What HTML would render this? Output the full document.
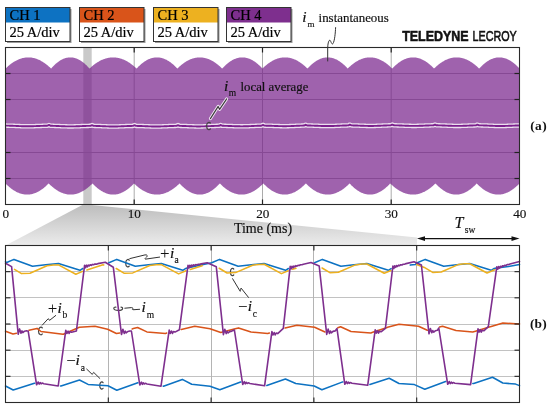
<!DOCTYPE html>
<html><head><meta charset="utf-8"><title>Oscilloscope capture</title>
<style>
html,body{margin:0;padding:0;background:#fff;}
body{width:550px;height:408px;overflow:hidden;}
svg{display:block;}
</style></head>
<body>
<svg width="550" height="408" viewBox="0 0 550 408">
<rect x="0" y="0" width="550" height="408" fill="#fff"/>
<rect x="7" y="9" width="64.5" height="34" fill="#9a9a9a"/>
<rect x="5.5" y="7.5" width="64.5" height="34" fill="#ffffff"/>
<rect x="5.5" y="7.5" width="64.5" height="15" fill="#0d72c2"/>
<rect x="5.5" y="7.5" width="64.5" height="34" fill="none" stroke="#333" stroke-width="1"/>
<text x="9.5" y="20.2" font-family="'Liberation Serif',serif" font-size="14.5" fill="#000" stroke="#000" stroke-width="0.2">CH 1</text>
<text x="9.5" y="36.6" font-family="'Liberation Serif',serif" font-size="14.5" fill="#000" stroke="#000" stroke-width="0.2">25 A/div</text>
<rect x="81" y="9" width="64.5" height="34" fill="#9a9a9a"/>
<rect x="79.5" y="7.5" width="64.5" height="34" fill="#ffffff"/>
<rect x="79.5" y="7.5" width="64.5" height="15" fill="#d9541a"/>
<rect x="79.5" y="7.5" width="64.5" height="34" fill="none" stroke="#333" stroke-width="1"/>
<text x="83.5" y="20.2" font-family="'Liberation Serif',serif" font-size="14.5" fill="#000" stroke="#000" stroke-width="0.2">CH 2</text>
<text x="83.5" y="36.6" font-family="'Liberation Serif',serif" font-size="14.5" fill="#000" stroke="#000" stroke-width="0.2">25 A/div</text>
<rect x="155" y="9" width="64.5" height="34" fill="#9a9a9a"/>
<rect x="153.5" y="7.5" width="64.5" height="34" fill="#ffffff"/>
<rect x="153.5" y="7.5" width="64.5" height="15" fill="#edb120"/>
<rect x="153.5" y="7.5" width="64.5" height="34" fill="none" stroke="#333" stroke-width="1"/>
<text x="157.5" y="20.2" font-family="'Liberation Serif',serif" font-size="14.5" fill="#000" stroke="#000" stroke-width="0.2">CH 3</text>
<text x="157.5" y="36.6" font-family="'Liberation Serif',serif" font-size="14.5" fill="#000" stroke="#000" stroke-width="0.2">25 A/div</text>
<rect x="228" y="9" width="64.5" height="34" fill="#9a9a9a"/>
<rect x="226.5" y="7.5" width="64.5" height="34" fill="#ffffff"/>
<rect x="226.5" y="7.5" width="64.5" height="15" fill="#7e2f8e"/>
<rect x="226.5" y="7.5" width="64.5" height="34" fill="none" stroke="#333" stroke-width="1"/>
<text x="230.5" y="20.2" font-family="'Liberation Serif',serif" font-size="14.5" fill="#000" stroke="#000" stroke-width="0.2">CH 4</text>
<text x="230.5" y="36.6" font-family="'Liberation Serif',serif" font-size="14.5" fill="#000" stroke="#000" stroke-width="0.2">25 A/div</text>
<rect x="83.3" y="47.5" width="8.4" height="157" fill="#c9c9c9"/>
<line x1="5.5" y1="73.5" x2="519.5" y2="73.5" stroke="#ababab" stroke-width="1"/>
<line x1="5.5" y1="99.5" x2="519.5" y2="99.5" stroke="#ababab" stroke-width="1"/>
<line x1="5.5" y1="126" x2="519.5" y2="126" stroke="#ababab" stroke-width="1"/>
<line x1="5.5" y1="152.5" x2="519.5" y2="152.5" stroke="#ababab" stroke-width="1"/>
<line x1="5.5" y1="178.5" x2="519.5" y2="178.5" stroke="#ababab" stroke-width="1"/>
<line x1="134.2" y1="47.5" x2="134.2" y2="204.5" stroke="#ababab" stroke-width="1"/>
<line x1="262.5" y1="47.5" x2="262.5" y2="204.5" stroke="#ababab" stroke-width="1"/>
<line x1="391.2" y1="47.5" x2="391.2" y2="204.5" stroke="#ababab" stroke-width="1"/>
<polygon points="5.5,68.6 6,68.11 6.5,67.64 7,67.17 7.5,66.72 8,66.28 8.5,65.85 9,65.43 9.5,65.01 10,64.62 10.5,64.23 11,63.85 11.5,63.48 12,63.12 12.5,62.78 13,62.44 13.5,62.12 14,61.81 14.5,61.5 15,61.21 15.5,60.93 16,60.66 16.5,60.4 17,60.15 17.5,59.91 18,59.69 18.5,59.47 19,59.26 19.5,59.07 20,58.88 20.5,58.71 21,58.55 21.5,58.4 22,58.26 22.5,58.12 23,58.01 23.5,57.9 24,57.8 24.5,57.71 25,57.63 25.5,57.57 26,57.51 26.5,57.47 27,57.44 27.5,57.41 28,57.4 28.5,57.4 29,57.41 29.5,57.43 30,57.46 30.5,57.5 31,57.56 31.5,57.62 32,57.69 32.5,57.78 33,57.88 33.5,57.98 34,58.1 34.5,58.23 35,58.37 35.5,58.52 36,58.68 36.5,58.85 37,59.03 37.5,59.22 38,59.43 38.5,59.64 39,59.87 39.5,60.1 40,60.35 40.5,60.61 41,60.88 41.5,61.15 42,61.44 42.5,61.74 43,62.06 43.5,62.38 44,62.71 44.5,63.05 45,63.41 45.5,63.77 46,64.15 46.5,64.54 47,64.93 47.5,65.34 48,65.76 48.5,66.19 49,66.63 49.5,67.08 50,67.55 50.5,68.02 51,68.5 51.5,68.14 52,67.57 52.5,67.03 53,66.49 53.5,65.97 54,65.47 54.5,64.98 55,64.51 55.5,64.05 56,63.61 56.5,63.19 57,62.77 57.5,62.38 58,62 58.5,61.63 59,61.28 59.5,60.94 60,60.62 60.5,60.32 61,60.03 61.5,59.75 62,59.49 62.5,59.25 63,59.02 63.5,58.8 64,58.61 64.5,58.42 65,58.25 65.5,58.1 66,57.96 66.5,57.84 67,57.73 67.5,57.64 68,57.56 68.5,57.5 69,57.45 69.5,57.42 70,57.4 70.5,57.4 71,57.41 71.5,57.44 72,57.49 72.5,57.55 73,57.62 73.5,57.71 74,57.82 74.5,57.94 75,58.07 75.5,58.22 76,58.39 76.5,58.57 77,58.76 77.5,58.98 78,59.2 78.5,59.44 79,59.7 79.5,59.97 80,60.26 80.5,60.56 81,60.88 81.5,61.21 82,61.56 82.5,61.92 83,62.3 83.5,62.69 84,63.1 84.5,63.53 85,63.97 85.5,64.42 86,64.89 86.5,65.37 87,65.87 87.5,66.39 88,66.92 88.5,67.46 89,68.02 89.5,68.6 90,68.13 90.5,67.67 91,67.22 91.5,66.78 92,66.35 92.5,65.93 93,65.52 93.5,65.12 94,64.73 94.5,64.35 95,63.98 95.5,63.62 96,63.27 96.5,62.93 97,62.6 97.5,62.28 98,61.97 98.5,61.68 99,61.39 99.5,61.11 100,60.84 100.5,60.58 101,60.33 101.5,60.09 102,59.87 102.5,59.65 103,59.44 103.5,59.24 104,59.05 104.5,58.88 105,58.71 105.5,58.55 106,58.4 106.5,58.27 107,58.14 107.5,58.02 108,57.92 108.5,57.82 109,57.73 109.5,57.65 110,57.59 110.5,57.53 111,57.48 111.5,57.45 112,57.42 112.5,57.41 113,57.4 113.5,57.4 114,57.42 114.5,57.44 115,57.48 115.5,57.52 116,57.58 116.5,57.64 117,57.72 117.5,57.8 118,57.89 118.5,58 119,58.11 119.5,58.24 120,58.38 120.5,58.52 121,58.68 121.5,58.84 122,59.02 122.5,59.2 123,59.4 123.5,59.61 124,59.82 124.5,60.05 125,60.28 125.5,60.53 126,60.79 126.5,61.05 127,61.33 127.5,61.62 128,61.91 128.5,62.22 129,62.54 129.5,62.86 130,63.2 130.5,63.55 131,63.91 131.5,64.27 132,64.65 132.5,65.04 133,65.44 133.5,65.85 134,66.26 134.5,66.69 135,67.13 135.5,67.58 136,68.04 136.5,68.51 137,68.16 137.5,67.63 138,67.11 138.5,66.61 139,66.11 139.5,65.64 140,65.17 140.5,64.72 141,64.28 141.5,63.86 142,63.44 142.5,63.05 143,62.66 143.5,62.29 144,61.94 144.5,61.59 145,61.26 145.5,60.95 146,60.64 146.5,60.35 147,60.08 147.5,59.82 148,59.57 148.5,59.33 149,59.11 149.5,58.9 150,58.71 150.5,58.53 151,58.36 151.5,58.2 152,58.06 152.5,57.94 153,57.82 153.5,57.72 154,57.64 154.5,57.56 155,57.5 155.5,57.46 156,57.42 156.5,57.41 157,57.4 157.5,57.41 158,57.43 158.5,57.46 159,57.51 159.5,57.58 160,57.65 160.5,57.74 161,57.84 161.5,57.96 162,58.09 162.5,58.23 163,58.39 163.5,58.56 164,58.74 164.5,58.94 165,59.15 165.5,59.38 166,59.62 166.5,59.87 167,60.13 167.5,60.41 168,60.7 168.5,61.01 169,61.33 169.5,61.66 170,62.01 170.5,62.37 171,62.74 171.5,63.13 172,63.53 172.5,63.94 173,64.37 173.5,64.81 174,65.26 174.5,65.73 175,66.21 175.5,66.71 176,67.21 176.5,67.74 177,68.27 177.5,68.4 178,67.91 178.5,67.43 179,66.97 179.5,66.51 180,66.07 180.5,65.63 181,65.21 181.5,64.8 182,64.4 182.5,64.01 183,63.63 183.5,63.27 184,62.91 184.5,62.57 185,62.23 185.5,61.91 186,61.6 186.5,61.3 187,61.01 187.5,60.73 188,60.47 188.5,60.21 189,59.97 189.5,59.73 190,59.51 190.5,59.3 191,59.1 191.5,58.91 192,58.73 192.5,58.57 193,58.41 193.5,58.27 194,58.13 194.5,58.01 195,57.9 195.5,57.8 196,57.71 196.5,57.63 197,57.57 197.5,57.51 198,57.47 198.5,57.43 199,57.41 199.5,57.4 200,57.4 200.5,57.41 201,57.43 201.5,57.47 202,57.51 202.5,57.57 203,57.63 203.5,57.71 204,57.8 204.5,57.9 205,58.01 205.5,58.13 206,58.27 206.5,58.41 207,58.57 207.5,58.73 208,58.91 208.5,59.1 209,59.3 209.5,59.51 210,59.73 210.5,59.97 211,60.21 211.5,60.47 212,60.73 212.5,61.01 213,61.3 213.5,61.6 214,61.91 214.5,62.23 215,62.57 215.5,62.91 216,63.27 216.5,63.63 217,64.01 217.5,64.4 218,64.8 218.5,65.21 219,65.63 219.5,66.07 220,66.51 220.5,66.97 221,67.43 221.5,67.91 222,68.4 222.5,68.27 223,67.73 223.5,67.2 224,66.68 224.5,66.18 225,65.7 225.5,65.22 226,64.77 226.5,64.32 227,63.89 227.5,63.47 228,63.07 228.5,62.68 229,62.3 229.5,61.94 230,61.59 230.5,61.26 231,60.94 231.5,60.63 232,60.34 232.5,60.06 233,59.8 233.5,59.55 234,59.31 234.5,59.09 235,58.88 235.5,58.68 236,58.5 236.5,58.33 237,58.18 237.5,58.04 238,57.91 238.5,57.8 239,57.7 239.5,57.62 240,57.55 240.5,57.49 241,57.45 241.5,57.42 242,57.4 242.5,57.4 243,57.41 243.5,57.44 244,57.48 244.5,57.53 245,57.6 245.5,57.68 246,57.78 246.5,57.89 247,58.01 247.5,58.15 248,58.3 248.5,58.47 249,58.64 249.5,58.84 250,59.04 250.5,59.26 251,59.5 251.5,59.75 252,60.01 252.5,60.28 253,60.57 253.5,60.88 254,61.19 254.5,61.53 255,61.87 255.5,62.23 256,62.6 256.5,62.99 257,63.39 257.5,63.8 258,64.23 258.5,64.68 259,65.13 259.5,65.6 260,66.09 260.5,66.58 261,67.09 261.5,67.62 262,68.16 262.5,68.5 263,68.01 263.5,67.53 264,67.07 264.5,66.61 265,66.17 265.5,65.73 266,65.31 266.5,64.9 267,64.5 267.5,64.11 268,63.73 268.5,63.36 269,63 269.5,62.66 270,62.32 270.5,62 271,61.69 271.5,61.38 272,61.09 272.5,60.81 273,60.55 273.5,60.29 274,60.04 274.5,59.81 275,59.58 275.5,59.37 276,59.16 276.5,58.97 277,58.79 277.5,58.62 278,58.46 278.5,58.32 279,58.18 279.5,58.05 280,57.94 280.5,57.84 281,57.74 281.5,57.66 282,57.59 282.5,57.53 283,57.48 283.5,57.45 284,57.42 284.5,57.4 285,57.4 285.5,57.41 286,57.42 286.5,57.45 287,57.49 287.5,57.54 288,57.6 288.5,57.68 289,57.76 289.5,57.86 290,57.96 290.5,58.08 291,58.21 291.5,58.34 292,58.49 292.5,58.66 293,58.83 293.5,59.01 294,59.2 294.5,59.41 295,59.62 295.5,59.85 296,60.09 296.5,60.34 297,60.6 297.5,60.87 298,61.15 298.5,61.44 299,61.75 299.5,62.06 300,62.39 300.5,62.73 301,63.07 301.5,63.43 302,63.8 302.5,64.18 303,64.58 303.5,64.98 304,65.39 304.5,65.82 305,66.25 305.5,66.7 306,67.16 306.5,67.63 307,68.11 307.5,68.6 308,68.05 308.5,67.51 309,66.99 309.5,66.48 310,65.99 310.5,65.51 311,65.04 311.5,64.59 312,64.15 312.5,63.72 313,63.31 313.5,62.91 314,62.53 314.5,62.16 315,61.8 315.5,61.46 316,61.13 316.5,60.82 317,60.51 317.5,60.23 318,59.95 318.5,59.7 319,59.45 319.5,59.22 320,59 320.5,58.8 321,58.61 321.5,58.43 322,58.27 322.5,58.12 323,57.99 323.5,57.87 324,57.76 324.5,57.67 325,57.59 325.5,57.52 326,57.47 326.5,57.43 327,57.41 327.5,57.4 328,57.4 328.5,57.42 329,57.45 329.5,57.5 330,57.56 330.5,57.63 331,57.72 331.5,57.82 332,57.94 332.5,58.07 333,58.21 333.5,58.37 334,58.54 334.5,58.72 335,58.92 335.5,59.13 336,59.36 336.5,59.6 337,59.85 337.5,60.12 338,60.4 338.5,60.69 339,61 339.5,61.33 340,61.66 340.5,62.01 341,62.38 341.5,62.76 342,63.15 342.5,63.55 343,63.97 343.5,64.41 344,64.86 344.5,65.32 345,65.79 345.5,66.28 346,66.79 346.5,67.3 347,67.83 347.5,68.38 348,68.3 348.5,67.81 349,67.33 349.5,66.86 350,66.4 350.5,65.96 351,65.52 351.5,65.1 352,64.69 352.5,64.29 353,63.9 353.5,63.52 354,63.16 354.5,62.8 355,62.46 355.5,62.12 356,61.8 356.5,61.49 357,61.19 357.5,60.91 358,60.63 358.5,60.37 359,60.11 359.5,59.87 360,59.64 360.5,59.42 361,59.21 361.5,59.02 362,58.83 362.5,58.66 363,58.49 363.5,58.34 364,58.2 364.5,58.07 365,57.95 365.5,57.85 366,57.75 366.5,57.67 367,57.6 367.5,57.54 368,57.49 368.5,57.45 369,57.42 369.5,57.4 370,57.4 370.5,57.41 371,57.42 371.5,57.45 372,57.5 372.5,57.55 373,57.61 373.5,57.69 374,57.77 374.5,57.87 375,57.98 375.5,58.1 376,58.23 376.5,58.37 377,58.52 377.5,58.69 378,58.87 378.5,59.05 379,59.25 379.5,59.46 380,59.69 380.5,59.92 381,60.16 381.5,60.42 382,60.68 382.5,60.96 383,61.25 383.5,61.55 384,61.87 384.5,62.19 385,62.52 385.5,62.87 386,63.23 386.5,63.6 387,63.98 387.5,64.37 388,64.77 388.5,65.18 389,65.61 389.5,66.05 390,66.49 390.5,66.95 391,67.42 391.5,67.91 392,68.4 392.5,68.28 393,67.76 393.5,67.25 394,66.75 394.5,66.27 395,65.8 395.5,65.34 396,64.9 396.5,64.47 397,64.05 397.5,63.64 398,63.25 398.5,62.87 399,62.5 399.5,62.14 400,61.8 400.5,61.47 401,61.15 401.5,60.85 402,60.56 402.5,60.28 403,60.02 403.5,59.76 404,59.52 404.5,59.3 405,59.08 405.5,58.88 406,58.69 406.5,58.52 407,58.35 407.5,58.2 408,58.07 408.5,57.94 409,57.83 409.5,57.73 410,57.65 410.5,57.57 411,57.51 411.5,57.47 412,57.43 412.5,57.41 413,57.4 413.5,57.4 414,57.42 414.5,57.45 415,57.49 415.5,57.55 416,57.62 416.5,57.7 417,57.79 417.5,57.9 418,58.02 418.5,58.15 419,58.29 419.5,58.45 420,58.62 420.5,58.8 421,59 421.5,59.21 422,59.43 422.5,59.67 423,59.91 423.5,60.17 424,60.45 424.5,60.73 425,61.03 425.5,61.34 426,61.67 426.5,62 427,62.35 427.5,62.72 428,63.09 428.5,63.48 429,63.88 429.5,64.3 430,64.72 430.5,65.16 431,65.62 431.5,66.08 432,66.56 432.5,67.05 433,67.55 433.5,68.07 434,68.6 434.5,68.11 435,67.63 435.5,67.16 436,66.71 436.5,66.26 437,65.82 437.5,65.4 438,64.99 438.5,64.58 439,64.19 439.5,63.81 440,63.44 440.5,63.08 441,62.74 441.5,62.4 442,62.07 442.5,61.76 443,61.46 443.5,61.16 444,60.88 444.5,60.61 445,60.35 445.5,60.1 446,59.86 446.5,59.64 447,59.42 447.5,59.22 448,59.02 448.5,58.84 449,58.67 449.5,58.51 450,58.36 450.5,58.22 451,58.09 451.5,57.97 452,57.86 452.5,57.77 453,57.68 453.5,57.61 454,57.55 454.5,57.5 455,57.46 455.5,57.43 456,57.41 456.5,57.4 457,57.4 457.5,57.42 458,57.44 458.5,57.48 459,57.53 459.5,57.58 460,57.65 460.5,57.73 461,57.82 461.5,57.93 462,58.04 462.5,58.16 463,58.3 463.5,58.44 464,58.6 464.5,58.77 465,58.95 465.5,59.14 466,59.34 466.5,59.55 467,59.77 467.5,60.01 468,60.25 468.5,60.51 469,60.77 469.5,61.05 470,61.34 470.5,61.64 471,61.95 471.5,62.27 472,62.6 472.5,62.94 473,63.3 473.5,63.66 474,64.04 474.5,64.43 475,64.82 475.5,65.23 476,65.65 476.5,66.08 477,66.53 477.5,66.98 478,67.44 478.5,67.92 479,68.4 479.5,68.27 480,67.73 480.5,67.2 481,66.69 481.5,66.19 482,65.7 482.5,65.23 483,64.77 483.5,64.33 484,63.9 484.5,63.48 485,63.08 485.5,62.69 486,62.32 486.5,61.95 487,61.61 487.5,61.27 488,60.95 488.5,60.65 489,60.35 489.5,60.08 490,59.81 490.5,59.56 491,59.32 491.5,59.1 492,58.89 492.5,58.69 493,58.51 493.5,58.34 494,58.19 494.5,58.05 495,57.92 495.5,57.81 496,57.71 496.5,57.62 497,57.55 497.5,57.49 498,57.45 498.5,57.42 499,57.4 499.5,57.4 500,57.41 500.5,57.44 501,57.48 501.5,57.53 502,57.59 502.5,57.67 503,57.77 503.5,57.88 504,58 504.5,58.13 505,58.28 505.5,58.44 506,58.62 506.5,58.81 507,59.01 507.5,59.23 508,59.46 508.5,59.71 509,59.97 509.5,60.24 510,60.53 510.5,60.83 511,61.14 511.5,61.47 512,61.81 512.5,62.17 513,62.54 513.5,62.92 514,63.32 514.5,63.73 515,64.16 515.5,64.59 516,65.05 516.5,65.51 517,65.99 517.5,66.49 518,66.99 518.5,67.52 519,68.05 519.5,68.6 519.5,183.4 519,183.92 518.5,184.42 518,184.92 517.5,185.4 517,185.86 516.5,186.32 516,186.76 515.5,187.2 515,187.62 514.5,188.02 514,188.42 513.5,188.8 513,189.17 512.5,189.53 512,189.87 511.5,190.21 511,190.53 510.5,190.84 510,191.14 509.5,191.42 509,191.69 508.5,191.95 508,192.2 507.5,192.44 507,192.66 506.5,192.87 506,193.07 505.5,193.26 505,193.44 504.5,193.6 504,193.75 503.5,193.89 503,194.01 502.5,194.13 502,194.23 501.5,194.32 501,194.39 500.5,194.46 500,194.51 499.5,194.55 499,194.58 498.5,194.6 498,194.6 497.5,194.59 497,194.57 496.5,194.54 496,194.49 495.5,194.43 495,194.36 494.5,194.28 494,194.19 493.5,194.08 493,193.96 492.5,193.83 492,193.69 491.5,193.53 491,193.37 490.5,193.19 490,193 489.5,192.79 489,192.57 488.5,192.35 488,192.11 487.5,191.85 487,191.59 486.5,191.31 486,191.02 485.5,190.72 485,190.4 484.5,190.08 484,189.74 483.5,189.39 483,189.02 482.5,188.65 482,188.26 481.5,187.86 481,187.45 480.5,187.02 480,186.59 479.5,186.14 479,185.68 478.5,185.2 478,184.72 477.5,184.22 477,183.71 476.5,183.62 476,184.15 475.5,184.67 475,185.17 474.5,185.66 474,186.14 473.5,186.61 473,187.06 472.5,187.5 472,187.93 471.5,188.34 471,188.74 470.5,189.13 470,189.5 469.5,189.86 469,190.21 468.5,190.54 468,190.86 467.5,191.17 467,191.46 466.5,191.75 466,192.01 465.5,192.27 465,192.51 464.5,192.74 464,192.95 463.5,193.15 463,193.34 462.5,193.52 462,193.68 461.5,193.83 461,193.97 460.5,194.09 460,194.2 459.5,194.29 459,194.38 458.5,194.45 458,194.5 457.5,194.55 457,194.58 456.5,194.6 456,194.6 455.5,194.59 455,194.57 454.5,194.53 454,194.48 453.5,194.42 453,194.35 452.5,194.26 452,194.16 451.5,194.04 451,193.91 450.5,193.77 450,193.62 449.5,193.45 449,193.27 448.5,193.08 448,192.87 447.5,192.65 447,192.41 446.5,192.17 446,191.91 445.5,191.63 445,191.35 444.5,191.05 444,190.74 443.5,190.41 443,190.07 442.5,189.72 442,189.35 441.5,188.97 441,188.58 440.5,188.18 440,187.76 439.5,187.33 439,186.88 438.5,186.42 438,185.95 437.5,185.47 437,184.97 436.5,184.46 436,183.94 435.5,183.4 435,183.89 434.5,184.37 434,184.83 433.5,185.29 433,185.74 432.5,186.17 432,186.59 431.5,187.01 431,187.41 430.5,187.8 430,188.18 429.5,188.55 429,188.91 428.5,189.25 428,189.59 427.5,189.91 427,190.23 426.5,190.53 426,190.82 425.5,191.11 425,191.38 424.5,191.64 424,191.89 423.5,192.12 423,192.35 422.5,192.57 422,192.77 421.5,192.97 421,193.15 420.5,193.32 420,193.48 419.5,193.63 419,193.77 418.5,193.9 418,194.02 417.5,194.13 417,194.22 416.5,194.31 416,194.38 415.5,194.45 415,194.5 414.5,194.54 414,194.57 413.5,194.59 413,194.6 412.5,194.6 412,194.58 411.5,194.56 411,194.53 410.5,194.48 410,194.42 409.5,194.35 409,194.28 408.5,194.19 408,194.09 407.5,193.98 407,193.85 406.5,193.72 406,193.58 405.5,193.42 405,193.25 404.5,193.08 404,192.89 403.5,192.69 403,192.48 402.5,192.26 402,192.03 401.5,191.79 401,191.53 400.5,191.27 400,191 399.5,190.71 399,190.41 398.5,190.1 398,189.79 397.5,189.46 397,189.12 396.5,188.76 396,188.4 395.5,188.03 395,187.64 394.5,187.25 394,186.84 393.5,186.43 393,186 392.5,185.56 392,185.11 391.5,184.65 391,184.18 390.5,183.69 390,183.62 389.5,184.16 389,184.69 388.5,185.2 388,185.7 387.5,186.18 387,186.65 386.5,187.11 386,187.56 385.5,187.99 385,188.4 384.5,188.81 384,189.2 383.5,189.57 383,189.94 382.5,190.29 382,190.62 381.5,190.94 381,191.25 380.5,191.55 380,191.83 379.5,192.1 379,192.35 378.5,192.59 378,192.82 377.5,193.03 377,193.23 376.5,193.42 376,193.59 375.5,193.75 375,193.89 374.5,194.02 374,194.14 373.5,194.25 373,194.34 372.5,194.42 372,194.48 371.5,194.53 371,194.57 370.5,194.59 370,194.6 369.5,194.6 369,194.58 368.5,194.55 368,194.5 367.5,194.44 367,194.37 366.5,194.29 366,194.19 365.5,194.07 365,193.95 364.5,193.81 364,193.65 363.5,193.49 363,193.31 362.5,193.11 362,192.9 361.5,192.68 361,192.45 360.5,192.2 360,191.94 359.5,191.66 359,191.37 358.5,191.07 358,190.75 357.5,190.42 357,190.08 356.5,189.72 356,189.35 355.5,188.96 355,188.57 354.5,188.15 354,187.73 353.5,187.29 353,186.84 352.5,186.37 352,185.89 351.5,185.4 351,184.89 350.5,184.37 350,183.84 349.5,183.5 349,184.01 348.5,184.5 348,184.98 347.5,185.44 347,185.9 346.5,186.35 346,186.78 345.5,187.2 345,187.61 344.5,188.01 344,188.4 343.5,188.77 343,189.13 342.5,189.48 342,189.82 341.5,190.15 341,190.47 340.5,190.77 340,191.07 339.5,191.35 339,191.62 338.5,191.88 338,192.12 337.5,192.36 337,192.58 336.5,192.79 336,192.99 335.5,193.18 335,193.36 334.5,193.52 334,193.67 333.5,193.81 333,193.94 332.5,194.06 332,194.17 331.5,194.26 331,194.35 330.5,194.42 330,194.48 329.5,194.52 329,194.56 328.5,194.59 328,194.6 327.5,194.6 327,194.59 326.5,194.57 326,194.53 325.5,194.49 325,194.43 324.5,194.36 324,194.28 323.5,194.19 323,194.08 322.5,193.97 322,193.84 321.5,193.7 321,193.55 320.5,193.39 320,193.22 319.5,193.03 319,192.83 318.5,192.62 318,192.4 317.5,192.17 317,191.93 316.5,191.67 316,191.4 315.5,191.12 315,190.83 314.5,190.53 314,190.22 313.5,189.89 313,189.55 312.5,189.2 312,188.84 311.5,188.47 311,188.09 310.5,187.69 310,187.28 309.5,186.86 309,186.43 308.5,185.99 308,185.54 307.5,185.07 307,184.59 306.5,184.1 306,183.6 305.5,183.71 305,184.23 304.5,184.73 304,185.22 303.5,185.69 303,186.16 302.5,186.61 302,187.05 301.5,187.47 301,187.89 300.5,188.29 300,188.68 299.5,189.06 299,189.42 298.5,189.77 298,190.11 297.5,190.44 297,190.76 296.5,191.06 296,191.35 295.5,191.63 295,191.89 294.5,192.14 294,192.39 293.5,192.61 293,192.83 292.5,193.03 292,193.22 291.5,193.4 291,193.57 290.5,193.72 290,193.86 289.5,193.99 289,194.11 288.5,194.21 288,194.3 287.5,194.38 287,194.45 286.5,194.51 286,194.55 285.5,194.58 285,194.59 284.5,194.6 284,194.59 283.5,194.57 283,194.54 282.5,194.5 282,194.44 281.5,194.37 281,194.29 280.5,194.19 280,194.09 279.5,193.97 279,193.84 278.5,193.69 278,193.54 277.5,193.37 277,193.19 276.5,192.99 276,192.79 275.5,192.57 275,192.34 274.5,192.09 274,191.84 273.5,191.57 273,191.29 272.5,191 272,190.69 271.5,190.38 271,190.05 270.5,189.7 270,189.35 269.5,188.98 269,188.6 268.5,188.21 268,187.81 267.5,187.39 267,186.96 266.5,186.52 266,186.07 265.5,185.6 265,185.12 264.5,184.63 264,184.13 263.5,183.61 263,183.71 262.5,184.21 262,184.7 261.5,185.18 261,185.64 260.5,186.1 260,186.54 259.5,186.97 259,187.39 258.5,187.8 258,188.19 257.5,188.58 257,188.95 256.5,189.31 256,189.66 255.5,189.99 255,190.32 254.5,190.63 254,190.93 253.5,191.22 253,191.5 252.5,191.76 252,192.01 251.5,192.26 251,192.49 250.5,192.7 250,192.91 249.5,193.1 249,193.29 248.5,193.46 248,193.62 247.5,193.76 247,193.9 246.5,194.02 246,194.13 245.5,194.23 245,194.32 244.5,194.39 244,194.46 243.5,194.51 243,194.55 242.5,194.58 242,194.6 241.5,194.6 241,194.59 240.5,194.57 240,194.54 239.5,194.5 239,194.45 238.5,194.38 238,194.3 237.5,194.21 237,194.11 236.5,194 236,193.87 235.5,193.73 235,193.58 234.5,193.42 234,193.25 233.5,193.07 233,192.87 232.5,192.66 232,192.44 231.5,192.21 231,191.96 230.5,191.71 230,191.44 229.5,191.16 229,190.87 228.5,190.57 228,190.25 227.5,189.93 227,189.59 226.5,189.24 226,188.88 225.5,188.5 225,188.12 224.5,187.72 224,187.31 223.5,186.89 223,186.45 222.5,186.01 222,185.55 221.5,185.08 221,184.6 220.5,184.11 220,183.61 219.5,183.73 219,184.27 218.5,184.8 218,185.32 217.5,185.82 217,186.3 216.5,186.78 216,187.23 215.5,187.68 215,188.11 214.5,188.53 214,188.93 213.5,189.32 213,189.7 212.5,190.06 212,190.41 211.5,190.74 211,191.06 210.5,191.37 210,191.66 209.5,191.94 209,192.2 208.5,192.45 208,192.69 207.5,192.91 207,193.12 206.5,193.32 206,193.5 205.5,193.67 205,193.82 204.5,193.96 204,194.09 203.5,194.2 203,194.3 202.5,194.38 202,194.45 201.5,194.51 201,194.55 200.5,194.58 200,194.6 199.5,194.6 199,194.59 198.5,194.56 198,194.52 197.5,194.47 197,194.4 196.5,194.32 196,194.22 195.5,194.11 195,193.99 194.5,193.85 194,193.7 193.5,193.53 193,193.36 192.5,193.16 192,192.96 191.5,192.74 191,192.5 190.5,192.25 190,191.99 189.5,191.72 189,191.43 188.5,191.12 188,190.81 187.5,190.47 187,190.13 186.5,189.77 186,189.4 185.5,189.01 185,188.61 184.5,188.2 184,187.77 183.5,187.32 183,186.87 182.5,186.4 182,185.91 181.5,185.42 181,184.91 180.5,184.38 180,183.84 179.5,183.5 179,183.98 178.5,184.45 178,184.92 177.5,185.37 177,185.81 176.5,186.24 176,186.66 175.5,187.07 175,187.46 174.5,187.85 174,188.23 173.5,188.59 173,188.95 172.5,189.29 172,189.62 171.5,189.94 171,190.26 170.5,190.56 170,190.85 169.5,191.12 169,191.39 168.5,191.65 168,191.9 167.5,192.13 167,192.36 166.5,192.57 166,192.78 165.5,192.97 165,193.15 164.5,193.32 164,193.48 163.5,193.63 163,193.77 162.5,193.9 162,194.02 161.5,194.12 161,194.22 160.5,194.31 160,194.38 159.5,194.44 159,194.5 158.5,194.54 158,194.57 157.5,194.59 157,194.6 156.5,194.6 156,194.59 155.5,194.56 155,194.53 154.5,194.49 154,194.43 153.5,194.37 153,194.29 152.5,194.2 152,194.1 151.5,193.99 151,193.88 150.5,193.74 150,193.6 149.5,193.45 149,193.29 148.5,193.12 148,192.93 147.5,192.74 147,192.53 146.5,192.31 146,192.09 145.5,191.85 145,191.6 144.5,191.34 144,191.07 143.5,190.79 143,190.5 142.5,190.19 142,189.88 141.5,189.56 141,189.22 140.5,188.88 140,188.52 139.5,188.15 139,187.77 138.5,187.38 138,186.99 137.5,186.57 137,186.15 136.5,185.72 136,185.28 135.5,184.83 135,184.36 134.5,183.89 134,183.4 133.5,183.93 133,184.45 132.5,184.96 132,185.45 131.5,185.94 131,186.4 130.5,186.86 130,187.3 129.5,187.73 129,188.15 128.5,188.55 128,188.94 127.5,189.32 127,189.68 126.5,190.03 126,190.37 125.5,190.7 125,191.01 124.5,191.31 124,191.59 123.5,191.87 123,192.13 122.5,192.37 122,192.61 121.5,192.83 121,193.04 120.5,193.23 120,193.41 119.5,193.58 119,193.74 118.5,193.88 118,194.01 117.5,194.13 117,194.23 116.5,194.33 116,194.4 115.5,194.47 115,194.52 114.5,194.56 114,194.59 113.5,194.6 113,194.6 112.5,194.59 112,194.56 111.5,194.52 111,194.47 110.5,194.4 110,194.33 109.5,194.23 109,194.13 108.5,194.01 108,193.88 107.5,193.74 107,193.58 106.5,193.41 106,193.23 105.5,193.04 105,192.83 104.5,192.61 104,192.37 103.5,192.13 103,191.87 102.5,191.59 102,191.31 101.5,191.01 101,190.7 100.5,190.37 100,190.03 99.5,189.68 99,189.32 98.5,188.94 98,188.55 97.5,188.15 97,187.73 96.5,187.3 96,186.86 95.5,186.4 95,185.94 94.5,185.45 94,184.96 93.5,184.45 93,183.93 92.5,183.4 92,183.91 91.5,184.4 91,184.88 90.5,185.35 90,185.81 89.5,186.26 89,186.69 88.5,187.12 88,187.53 87.5,187.93 87,188.32 86.5,188.7 86,189.06 85.5,189.42 85,189.76 84.5,190.09 84,190.41 83.5,190.71 83,191.01 82.5,191.29 82,191.57 81.5,191.83 81,192.07 80.5,192.31 80,192.54 79.5,192.75 79,192.95 78.5,193.14 78,193.32 77.5,193.49 77,193.64 76.5,193.79 76,193.92 75.5,194.04 75,194.15 74.5,194.24 74,194.33 73.5,194.4 73,194.47 72.5,194.52 72,194.55 71.5,194.58 71,194.6 70.5,194.6 70,194.59 69.5,194.57 69,194.54 68.5,194.5 68,194.44 67.5,194.38 67,194.3 66.5,194.21 66,194.11 65.5,193.99 65,193.87 64.5,193.73 64,193.58 63.5,193.42 63,193.25 62.5,193.07 62,192.87 61.5,192.67 61,192.45 60.5,192.22 60,191.98 59.5,191.72 59,191.46 58.5,191.18 58,190.89 57.5,190.59 57,190.28 56.5,189.96 56,189.62 55.5,189.28 55,188.92 54.5,188.55 54,188.17 53.5,187.77 53,187.37 52.5,186.95 52,186.52 51.5,186.08 51,185.63 50.5,185.17 50,184.69 49.5,184.2 49,183.7 48.5,183.61 48,184.11 47.5,184.61 47,185.09 46.5,185.57 46,186.03 45.5,186.47 45,186.91 44.5,187.33 44,187.74 43.5,188.14 43,188.53 42.5,188.91 42,189.27 41.5,189.62 41,189.96 40.5,190.29 40,190.61 39.5,190.91 39,191.2 38.5,191.48 38,191.75 37.5,192 37,192.25 36.5,192.48 36,192.7 35.5,192.91 35,193.1 34.5,193.29 34,193.46 33.5,193.62 33,193.76 32.5,193.9 32,194.02 31.5,194.14 31,194.23 30.5,194.32 30,194.4 29.5,194.46 29,194.51 28.5,194.55 28,194.58 27.5,194.6 27,194.6 26.5,194.59 26,194.57 25.5,194.54 25,194.49 24.5,194.44 24,194.37 23.5,194.29 23,194.2 22.5,194.09 22,193.98 21.5,193.85 21,193.71 20.5,193.55 20,193.39 19.5,193.21 19,193.02 18.5,192.82 18,192.61 17.5,192.39 17,192.15 16.5,191.9 16,191.64 15.5,191.37 15,191.09 14.5,190.79 14,190.48 13.5,190.16 13,189.83 12.5,189.48 12,189.13 11.5,188.76 11,188.38 10.5,187.99 10,187.58 9.5,187.16 9,186.74 8.5,186.3 8,185.84 7.5,185.38 7,184.9 6.5,184.41 6,183.91 5.5,183.4" fill="#76208a" fill-opacity="0.7"/>
<line x1="5.5" y1="73.5" x2="10.5" y2="73.5" stroke="#222" stroke-width="1.2"/>
<line x1="514.5" y1="73.5" x2="519.5" y2="73.5" stroke="#222" stroke-width="1.2"/>
<line x1="5.5" y1="99.5" x2="10.5" y2="99.5" stroke="#222" stroke-width="1.2"/>
<line x1="514.5" y1="99.5" x2="519.5" y2="99.5" stroke="#222" stroke-width="1.2"/>
<line x1="5.5" y1="126" x2="10.5" y2="126" stroke="#222" stroke-width="1.2"/>
<line x1="514.5" y1="126" x2="519.5" y2="126" stroke="#222" stroke-width="1.2"/>
<line x1="5.5" y1="152.5" x2="10.5" y2="152.5" stroke="#222" stroke-width="1.2"/>
<line x1="514.5" y1="152.5" x2="519.5" y2="152.5" stroke="#222" stroke-width="1.2"/>
<line x1="5.5" y1="178.5" x2="10.5" y2="178.5" stroke="#222" stroke-width="1.2"/>
<line x1="514.5" y1="178.5" x2="519.5" y2="178.5" stroke="#222" stroke-width="1.2"/>
<line x1="134.2" y1="47.5" x2="134.2" y2="52.5" stroke="#222" stroke-width="1.2"/>
<line x1="134.2" y1="199.5" x2="134.2" y2="204.5" stroke="#222" stroke-width="1.2"/>
<line x1="262.5" y1="47.5" x2="262.5" y2="52.5" stroke="#222" stroke-width="1.2"/>
<line x1="262.5" y1="199.5" x2="262.5" y2="204.5" stroke="#222" stroke-width="1.2"/>
<line x1="391.2" y1="47.5" x2="391.2" y2="52.5" stroke="#222" stroke-width="1.2"/>
<line x1="391.2" y1="199.5" x2="391.2" y2="204.5" stroke="#222" stroke-width="1.2"/>
<polyline points="5.5,125.62 6,125.62 6.5,125.62 7,125.63 7.5,125.64 8,125.65 8.5,125.66 9,125.67 9.5,125.68 10,125.7 10.5,125.71 11,125.73 11.5,125.75 12,125.77 12.5,125.79 13,125.81 13.5,125.83 14,125.85 14.5,125.87 15,125.9 15.5,125.92 16,125.94 16.5,125.97 17,125.99 17.5,126.01 18,126.04 18.5,126.06 19,126.08 19.5,126.1 20,126.12 20.5,126.14 21,126.16 21.5,126.18 22,126.2 22.5,126.21 23,126.23 23.5,126.24 24,126.25 24.5,126.26 25,126.27 25.5,126.28 26,126.28 26.5,126.29 27,126.29 27.5,126.29 28,126.29 28.5,126.29 29,126.28 29.5,126.28 30,126.27 30.5,126.26 31,126.25 31.5,126.24 32,126.23 32.5,126.21 33,126.2 33.5,126.18 34,126.17 34.5,126.15 35,126.13 35.5,126.11 36,126.09 36.5,126.07 37,126.05 37.5,126.03 38,126.01 38.5,125.99 39,125.97 39.5,125.95 40,125.93 40.5,125.91 41,125.89 41.5,125.88 42,125.86 42.5,125.84 43,125.83 43.5,125.82 44,125.8 44.5,125.79 45,125.78 45.5,125.77 46,125.77 46.5,125.76 47,125.74 47.5,125.68 48,125.5 48.5,125.21 49,125.06 49.5,125.21 50,125.51 50.5,125.7 51,125.77 51.5,125.79 52,125.8 52.5,125.82 53,125.83 53.5,125.84 54,125.86 54.5,125.88 55,125.9 55.5,125.92 56,125.94 56.5,125.96 57,125.98 57.5,126 58,126.03 58.5,126.05 59,126.07 59.5,126.1 60,126.12 60.5,126.14 61,126.16 61.5,126.19 62,126.21 62.5,126.23 63,126.25 63.5,126.27 64,126.29 64.5,126.31 65,126.32 65.5,126.34 66,126.35 66.5,126.36 67,126.37 67.5,126.38 68,126.39 68.5,126.4 69,126.4 69.5,126.41 70,126.41 70.5,126.41 71,126.41 71.5,126.41 72,126.4 72.5,126.4 73,126.39 73.5,126.38 74,126.37 74.5,126.36 75,126.35 75.5,126.33 76,126.32 76.5,126.3 77,126.28 77.5,126.26 78,126.25 78.5,126.23 79,126.21 79.5,126.19 80,126.17 80.5,126.14 81,126.12 81.5,126.1 82,126.08 82.5,126.06 83,126.04 83.5,126.02 84,126 84.5,125.99 85,125.97 85.5,125.95 86,125.94 86.5,125.92 87,125.91 87.5,125.9 88,125.89 88.5,125.88 89,125.87 89.5,125.86 90,125.85 90.5,125.78 91,125.6 91.5,125.31 92,125.16 92.5,125.31 93,125.61 93.5,125.8 94,125.87 94.5,125.89 95,125.9 95.5,125.91 96,125.93 96.5,125.94 97,125.96 97.5,125.97 98,125.99 98.5,126.01 99,126.03 99.5,126.05 100,126.07 100.5,126.09 101,126.12 101.5,126.14 102,126.16 102.5,126.18 103,126.21 103.5,126.23 104,126.25 104.5,126.27 105,126.29 105.5,126.31 106,126.33 106.5,126.35 107,126.37 107.5,126.39 108,126.4 108.5,126.42 109,126.43 109.5,126.44 110,126.45 110.5,126.46 111,126.47 111.5,126.48 112,126.48 112.5,126.48 113,126.49 113.5,126.48 114,126.48 114.5,126.48 115,126.47 115.5,126.47 116,126.46 116.5,126.45 117,126.44 117.5,126.43 118,126.41 118.5,126.4 119,126.38 119.5,126.37 120,126.35 120.5,126.33 121,126.31 121.5,126.29 122,126.27 122.5,126.25 123,126.23 123.5,126.21 124,126.18 124.5,126.16 125,126.14 125.5,126.12 126,126.1 126.5,126.08 127,126.06 127.5,126.04 128,126.02 128.5,126.01 129,125.99 129.5,125.97 130,125.96 130.5,125.95 131,125.94 131.5,125.93 132,125.92 132.5,125.9 133,125.83 133.5,125.64 134,125.35 134.5,125.2 135,125.35 135.5,125.65 136,125.83 136.5,125.9 137,125.92 137.5,125.93 138,125.94 138.5,125.95 139,125.96 139.5,125.98 140,125.99 140.5,126.01 141,126.03 141.5,126.04 142,126.06 142.5,126.08 143,126.1 143.5,126.12 144,126.15 144.5,126.17 145,126.19 145.5,126.21 146,126.23 146.5,126.25 147,126.28 147.5,126.3 148,126.32 148.5,126.34 149,126.36 149.5,126.37 150,126.39 150.5,126.41 151,126.42 151.5,126.44 152,126.45 152.5,126.46 153,126.47 153.5,126.48 154,126.48 154.5,126.49 155,126.49 155.5,126.5 156,126.5 156.5,126.49 157,126.49 157.5,126.49 158,126.48 158.5,126.47 159,126.47 159.5,126.46 160,126.44 160.5,126.43 161,126.42 161.5,126.4 162,126.38 162.5,126.37 163,126.35 163.5,126.33 164,126.31 164.5,126.29 165,126.27 165.5,126.24 166,126.22 166.5,126.2 167,126.18 167.5,126.15 168,126.13 168.5,126.11 169,126.09 169.5,126.07 170,126.05 170.5,126.03 171,126.01 171.5,125.99 172,125.97 172.5,125.96 173,125.94 173.5,125.93 174,125.92 174.5,125.91 175,125.9 175.5,125.89 176,125.87 176.5,125.81 177,125.62 177.5,125.33 178,125.18 178.5,125.33 179,125.62 179.5,125.81 180,125.88 180.5,125.9 181,125.91 181.5,125.92 182,125.93 182.5,125.95 183,125.96 183.5,125.98 184,125.99 184.5,126.01 185,126.03 185.5,126.05 186,126.07 186.5,126.09 187,126.11 187.5,126.13 188,126.15 188.5,126.17 189,126.19 189.5,126.21 190,126.23 190.5,126.25 191,126.27 191.5,126.29 192,126.31 192.5,126.33 193,126.34 193.5,126.36 194,126.37 194.5,126.39 195,126.4 195.5,126.41 196,126.42 196.5,126.43 197,126.43 197.5,126.44 198,126.44 198.5,126.44 199,126.44 199.5,126.44 200,126.44 200.5,126.43 201,126.42 201.5,126.42 202,126.41 202.5,126.4 203,126.38 203.5,126.37 204,126.35 204.5,126.34 205,126.32 205.5,126.3 206,126.28 206.5,126.26 207,126.24 207.5,126.22 208,126.2 208.5,126.17 209,126.15 209.5,126.13 210,126.11 210.5,126.08 211,126.06 211.5,126.04 212,126.02 212.5,125.99 213,125.97 213.5,125.95 214,125.93 214.5,125.91 215,125.9 215.5,125.88 216,125.87 216.5,125.85 217,125.84 217.5,125.83 218,125.82 218.5,125.8 219,125.75 219.5,125.59 220,125.31 220.5,125.1 221,125.19 221.5,125.48 222,125.7 222.5,125.78 223,125.8 223.5,125.81 224,125.82 224.5,125.83 225,125.84 225.5,125.85 226,125.87 226.5,125.88 227,125.9 227.5,125.92 228,125.93 228.5,125.95 229,125.97 229.5,125.99 230,126.01 230.5,126.03 231,126.05 231.5,126.07 232,126.09 232.5,126.11 233,126.13 233.5,126.15 234,126.17 234.5,126.19 235,126.21 235.5,126.22 236,126.24 236.5,126.26 237,126.27 237.5,126.28 238,126.29 238.5,126.3 239,126.31 239.5,126.32 240,126.32 240.5,126.33 241,126.33 241.5,126.33 242,126.33 242.5,126.33 243,126.33 243.5,126.32 244,126.31 244.5,126.3 245,126.29 245.5,126.28 246,126.27 246.5,126.26 247,126.24 247.5,126.22 248,126.2 248.5,126.19 249,126.17 249.5,126.15 250,126.12 250.5,126.1 251,126.08 251.5,126.06 252,126.03 252.5,126.01 253,125.99 253.5,125.96 254,125.94 254.5,125.92 255,125.89 255.5,125.87 256,125.85 256.5,125.83 257,125.81 257.5,125.79 258,125.77 258.5,125.76 259,125.74 259.5,125.73 260,125.71 260.5,125.7 261,125.68 261.5,125.61 262,125.42 262.5,125.12 263,124.97 263.5,125.12 264,125.41 264.5,125.59 265,125.65 265.5,125.67 266,125.68 266.5,125.68 267,125.69 267.5,125.7 268,125.71 268.5,125.72 269,125.74 269.5,125.75 270,125.77 270.5,125.78 271,125.8 271.5,125.82 272,125.84 272.5,125.86 273,125.88 273.5,125.9 274,125.92 274.5,125.94 275,125.96 275.5,125.98 276,126 276.5,126.02 277,126.04 277.5,126.05 278,126.07 278.5,126.09 279,126.1 279.5,126.12 280,126.13 280.5,126.14 281,126.16 281.5,126.17 282,126.17 282.5,126.18 283,126.19 283.5,126.19 284,126.19 284.5,126.19 285,126.19 285.5,126.19 286,126.19 286.5,126.18 287,126.17 287.5,126.16 288,126.15 288.5,126.14 289,126.13 289.5,126.11 290,126.1 290.5,126.08 291,126.06 291.5,126.05 292,126.03 292.5,126 293,125.98 293.5,125.96 294,125.94 294.5,125.92 295,125.89 295.5,125.87 296,125.85 296.5,125.82 297,125.8 297.5,125.78 298,125.75 298.5,125.73 299,125.71 299.5,125.69 300,125.67 300.5,125.65 301,125.63 301.5,125.61 302,125.6 302.5,125.58 303,125.57 303.5,125.55 304,125.5 304.5,125.33 305,125.05 305.5,124.84 306,124.93 306.5,125.21 307,125.42 307.5,125.5 308,125.52 308.5,125.53 309,125.53 309.5,125.54 310,125.55 310.5,125.56 311,125.57 311.5,125.58 312,125.6 312.5,125.61 313,125.63 313.5,125.64 314,125.66 314.5,125.68 315,125.7 315.5,125.72 316,125.74 316.5,125.76 317,125.78 317.5,125.8 318,125.82 318.5,125.84 319,125.86 319.5,125.88 320,125.9 320.5,125.91 321,125.93 321.5,125.95 322,125.97 322.5,125.98 323,125.99 323.5,126.01 324,126.02 324.5,126.03 325,126.04 325.5,126.04 326,126.05 326.5,126.05 327,126.06 327.5,126.06 328,126.06 328.5,126.05 329,126.05 329.5,126.04 330,126.04 330.5,126.03 331,126.02 331.5,126.01 332,125.99 332.5,125.98 333,125.96 333.5,125.95 334,125.93 334.5,125.91 335,125.89 335.5,125.87 336,125.85 336.5,125.83 337,125.81 337.5,125.78 338,125.76 338.5,125.74 339,125.71 339.5,125.69 340,125.67 340.5,125.64 341,125.62 341.5,125.6 342,125.58 342.5,125.56 343,125.54 343.5,125.52 344,125.5 344.5,125.49 345,125.47 345.5,125.46 346,125.44 346.5,125.43 347,125.42 347.5,125.41 348,125.38 348.5,125.27 349,125.03 349.5,124.76 350,124.72 350.5,124.97 351,125.23 351.5,125.37 352,125.41 352.5,125.42 353,125.43 353.5,125.44 354,125.45 354.5,125.46 355,125.48 355.5,125.49 356,125.51 356.5,125.52 357,125.54 357.5,125.56 358,125.58 358.5,125.6 359,125.62 359.5,125.64 360,125.66 360.5,125.68 361,125.7 361.5,125.72 362,125.74 362.5,125.76 363,125.78 363.5,125.8 364,125.82 364.5,125.84 365,125.85 365.5,125.87 366,125.88 366.5,125.9 367,125.91 367.5,125.92 368,125.93 368.5,125.94 369,125.94 369.5,125.95 370,125.95 370.5,125.95 371,125.95 371.5,125.95 372,125.95 372.5,125.94 373,125.93 373.5,125.93 374,125.92 374.5,125.91 375,125.89 375.5,125.88 376,125.87 376.5,125.85 377,125.83 377.5,125.81 378,125.79 378.5,125.77 379,125.75 379.5,125.73 380,125.71 380.5,125.69 381,125.67 381.5,125.64 382,125.62 382.5,125.6 383,125.58 383.5,125.55 384,125.53 384.5,125.51 385,125.49 385.5,125.47 386,125.45 386.5,125.43 387,125.42 387.5,125.4 388,125.39 388.5,125.37 389,125.36 389.5,125.35 390,125.34 390.5,125.31 391,125.2 391.5,124.95 392,124.68 392.5,124.65 393,124.89 393.5,125.15 394,125.28 394.5,125.32 395,125.33 395.5,125.34 396,125.35 396.5,125.36 397,125.38 397.5,125.39 398,125.4 398.5,125.42 399,125.44 399.5,125.45 400,125.47 400.5,125.49 401,125.51 401.5,125.53 402,125.55 402.5,125.58 403,125.6 403.5,125.62 404,125.64 404.5,125.66 405,125.68 405.5,125.7 406,125.72 406.5,125.74 407,125.76 407.5,125.78 408,125.8 408.5,125.81 409,125.83 409.5,125.84 410,125.85 410.5,125.87 411,125.87 411.5,125.88 412,125.89 412.5,125.9 413,125.9 413.5,125.9 414,125.9 414.5,125.9 415,125.9 415.5,125.89 416,125.89 416.5,125.88 417,125.87 417.5,125.86 418,125.85 418.5,125.84 419,125.82 419.5,125.81 420,125.79 420.5,125.77 421,125.76 421.5,125.74 422,125.72 422.5,125.7 423,125.68 423.5,125.65 424,125.63 424.5,125.61 425,125.59 425.5,125.57 426,125.55 426.5,125.52 427,125.5 427.5,125.48 428,125.46 428.5,125.44 429,125.43 429.5,125.41 430,125.39 430.5,125.38 431,125.36 431.5,125.35 432,125.34 432.5,125.33 433,125.31 433.5,125.24 434,125.05 434.5,124.76 435,124.6 435.5,124.76 436,125.05 436.5,125.23 437,125.3 437.5,125.31 438,125.32 438.5,125.33 439,125.34 439.5,125.35 440,125.37 440.5,125.38 441,125.4 441.5,125.41 442,125.43 442.5,125.45 443,125.47 443.5,125.49 444,125.51 444.5,125.53 445,125.55 445.5,125.58 446,125.6 446.5,125.62 447,125.64 447.5,125.66 448,125.69 448.5,125.71 449,125.73 449.5,125.75 450,125.77 450.5,125.79 451,125.81 451.5,125.82 452,125.84 452.5,125.85 453,125.87 453.5,125.88 454,125.89 454.5,125.9 455,125.9 455.5,125.91 456,125.92 456.5,125.92 457,125.92 457.5,125.92 458,125.92 458.5,125.91 459,125.91 459.5,125.9 460,125.9 460.5,125.89 461,125.88 461.5,125.86 462,125.85 462.5,125.84 463,125.82 463.5,125.8 464,125.79 464.5,125.77 465,125.75 465.5,125.73 466,125.71 466.5,125.69 467,125.67 467.5,125.65 468,125.62 468.5,125.6 469,125.58 469.5,125.56 470,125.54 470.5,125.52 471,125.5 471.5,125.48 472,125.47 472.5,125.45 473,125.43 473.5,125.42 474,125.41 474.5,125.4 475,125.38 475.5,125.35 476,125.24 476.5,124.99 477,124.72 477.5,124.68 478,124.92 478.5,125.19 479,125.32 479.5,125.35 480,125.36 480.5,125.37 481,125.38 481.5,125.39 482,125.4 482.5,125.41 483,125.42 483.5,125.44 484,125.46 484.5,125.47 485,125.49 485.5,125.51 486,125.53 486.5,125.55 487,125.57 487.5,125.6 488,125.62 488.5,125.64 489,125.66 489.5,125.69 490,125.71 490.5,125.73 491,125.75 491.5,125.78 492,125.8 492.5,125.82 493,125.84 493.5,125.86 494,125.88 494.5,125.9 495,125.91 495.5,125.93 496,125.94 496.5,125.95 497,125.96 497.5,125.97 498,125.98 498.5,125.99 499,125.99 499.5,126 500,126 500.5,126 501,126 501.5,126 502,125.99 502.5,125.99 503,125.98 503.5,125.97 504,125.96 504.5,125.95 505,125.94 505.5,125.92 506,125.91 506.5,125.89 507,125.87 507.5,125.86 508,125.84 508.5,125.82 509,125.8 509.5,125.78 510,125.76 510.5,125.74 511,125.72 511.5,125.7 512,125.68 512.5,125.66 513,125.64 513.5,125.62 514,125.6 514.5,125.58 515,125.57 515.5,125.55 516,125.54 516.5,125.52 517,125.51 517.5,125.5 518,125.49 518.5,125.48 519,125.47 519.5,125.47" fill="none" stroke="#ecdfee" stroke-width="4.5"/>
<polyline points="5.5,125.62 6,125.62 6.5,125.62 7,125.63 7.5,125.64 8,125.65 8.5,125.66 9,125.67 9.5,125.68 10,125.7 10.5,125.71 11,125.73 11.5,125.75 12,125.77 12.5,125.79 13,125.81 13.5,125.83 14,125.85 14.5,125.87 15,125.9 15.5,125.92 16,125.94 16.5,125.97 17,125.99 17.5,126.01 18,126.04 18.5,126.06 19,126.08 19.5,126.1 20,126.12 20.5,126.14 21,126.16 21.5,126.18 22,126.2 22.5,126.21 23,126.23 23.5,126.24 24,126.25 24.5,126.26 25,126.27 25.5,126.28 26,126.28 26.5,126.29 27,126.29 27.5,126.29 28,126.29 28.5,126.29 29,126.28 29.5,126.28 30,126.27 30.5,126.26 31,126.25 31.5,126.24 32,126.23 32.5,126.21 33,126.2 33.5,126.18 34,126.17 34.5,126.15 35,126.13 35.5,126.11 36,126.09 36.5,126.07 37,126.05 37.5,126.03 38,126.01 38.5,125.99 39,125.97 39.5,125.95 40,125.93 40.5,125.91 41,125.89 41.5,125.88 42,125.86 42.5,125.84 43,125.83 43.5,125.82 44,125.8 44.5,125.79 45,125.78 45.5,125.77 46,125.77 46.5,125.76 47,125.74 47.5,125.68 48,125.5 48.5,125.21 49,125.06 49.5,125.21 50,125.51 50.5,125.7 51,125.77 51.5,125.79 52,125.8 52.5,125.82 53,125.83 53.5,125.84 54,125.86 54.5,125.88 55,125.9 55.5,125.92 56,125.94 56.5,125.96 57,125.98 57.5,126 58,126.03 58.5,126.05 59,126.07 59.5,126.1 60,126.12 60.5,126.14 61,126.16 61.5,126.19 62,126.21 62.5,126.23 63,126.25 63.5,126.27 64,126.29 64.5,126.31 65,126.32 65.5,126.34 66,126.35 66.5,126.36 67,126.37 67.5,126.38 68,126.39 68.5,126.4 69,126.4 69.5,126.41 70,126.41 70.5,126.41 71,126.41 71.5,126.41 72,126.4 72.5,126.4 73,126.39 73.5,126.38 74,126.37 74.5,126.36 75,126.35 75.5,126.33 76,126.32 76.5,126.3 77,126.28 77.5,126.26 78,126.25 78.5,126.23 79,126.21 79.5,126.19 80,126.17 80.5,126.14 81,126.12 81.5,126.1 82,126.08 82.5,126.06 83,126.04 83.5,126.02 84,126 84.5,125.99 85,125.97 85.5,125.95 86,125.94 86.5,125.92 87,125.91 87.5,125.9 88,125.89 88.5,125.88 89,125.87 89.5,125.86 90,125.85 90.5,125.78 91,125.6 91.5,125.31 92,125.16 92.5,125.31 93,125.61 93.5,125.8 94,125.87 94.5,125.89 95,125.9 95.5,125.91 96,125.93 96.5,125.94 97,125.96 97.5,125.97 98,125.99 98.5,126.01 99,126.03 99.5,126.05 100,126.07 100.5,126.09 101,126.12 101.5,126.14 102,126.16 102.5,126.18 103,126.21 103.5,126.23 104,126.25 104.5,126.27 105,126.29 105.5,126.31 106,126.33 106.5,126.35 107,126.37 107.5,126.39 108,126.4 108.5,126.42 109,126.43 109.5,126.44 110,126.45 110.5,126.46 111,126.47 111.5,126.48 112,126.48 112.5,126.48 113,126.49 113.5,126.48 114,126.48 114.5,126.48 115,126.47 115.5,126.47 116,126.46 116.5,126.45 117,126.44 117.5,126.43 118,126.41 118.5,126.4 119,126.38 119.5,126.37 120,126.35 120.5,126.33 121,126.31 121.5,126.29 122,126.27 122.5,126.25 123,126.23 123.5,126.21 124,126.18 124.5,126.16 125,126.14 125.5,126.12 126,126.1 126.5,126.08 127,126.06 127.5,126.04 128,126.02 128.5,126.01 129,125.99 129.5,125.97 130,125.96 130.5,125.95 131,125.94 131.5,125.93 132,125.92 132.5,125.9 133,125.83 133.5,125.64 134,125.35 134.5,125.2 135,125.35 135.5,125.65 136,125.83 136.5,125.9 137,125.92 137.5,125.93 138,125.94 138.5,125.95 139,125.96 139.5,125.98 140,125.99 140.5,126.01 141,126.03 141.5,126.04 142,126.06 142.5,126.08 143,126.1 143.5,126.12 144,126.15 144.5,126.17 145,126.19 145.5,126.21 146,126.23 146.5,126.25 147,126.28 147.5,126.3 148,126.32 148.5,126.34 149,126.36 149.5,126.37 150,126.39 150.5,126.41 151,126.42 151.5,126.44 152,126.45 152.5,126.46 153,126.47 153.5,126.48 154,126.48 154.5,126.49 155,126.49 155.5,126.5 156,126.5 156.5,126.49 157,126.49 157.5,126.49 158,126.48 158.5,126.47 159,126.47 159.5,126.46 160,126.44 160.5,126.43 161,126.42 161.5,126.4 162,126.38 162.5,126.37 163,126.35 163.5,126.33 164,126.31 164.5,126.29 165,126.27 165.5,126.24 166,126.22 166.5,126.2 167,126.18 167.5,126.15 168,126.13 168.5,126.11 169,126.09 169.5,126.07 170,126.05 170.5,126.03 171,126.01 171.5,125.99 172,125.97 172.5,125.96 173,125.94 173.5,125.93 174,125.92 174.5,125.91 175,125.9 175.5,125.89 176,125.87 176.5,125.81 177,125.62 177.5,125.33 178,125.18 178.5,125.33 179,125.62 179.5,125.81 180,125.88 180.5,125.9 181,125.91 181.5,125.92 182,125.93 182.5,125.95 183,125.96 183.5,125.98 184,125.99 184.5,126.01 185,126.03 185.5,126.05 186,126.07 186.5,126.09 187,126.11 187.5,126.13 188,126.15 188.5,126.17 189,126.19 189.5,126.21 190,126.23 190.5,126.25 191,126.27 191.5,126.29 192,126.31 192.5,126.33 193,126.34 193.5,126.36 194,126.37 194.5,126.39 195,126.4 195.5,126.41 196,126.42 196.5,126.43 197,126.43 197.5,126.44 198,126.44 198.5,126.44 199,126.44 199.5,126.44 200,126.44 200.5,126.43 201,126.42 201.5,126.42 202,126.41 202.5,126.4 203,126.38 203.5,126.37 204,126.35 204.5,126.34 205,126.32 205.5,126.3 206,126.28 206.5,126.26 207,126.24 207.5,126.22 208,126.2 208.5,126.17 209,126.15 209.5,126.13 210,126.11 210.5,126.08 211,126.06 211.5,126.04 212,126.02 212.5,125.99 213,125.97 213.5,125.95 214,125.93 214.5,125.91 215,125.9 215.5,125.88 216,125.87 216.5,125.85 217,125.84 217.5,125.83 218,125.82 218.5,125.8 219,125.75 219.5,125.59 220,125.31 220.5,125.1 221,125.19 221.5,125.48 222,125.7 222.5,125.78 223,125.8 223.5,125.81 224,125.82 224.5,125.83 225,125.84 225.5,125.85 226,125.87 226.5,125.88 227,125.9 227.5,125.92 228,125.93 228.5,125.95 229,125.97 229.5,125.99 230,126.01 230.5,126.03 231,126.05 231.5,126.07 232,126.09 232.5,126.11 233,126.13 233.5,126.15 234,126.17 234.5,126.19 235,126.21 235.5,126.22 236,126.24 236.5,126.26 237,126.27 237.5,126.28 238,126.29 238.5,126.3 239,126.31 239.5,126.32 240,126.32 240.5,126.33 241,126.33 241.5,126.33 242,126.33 242.5,126.33 243,126.33 243.5,126.32 244,126.31 244.5,126.3 245,126.29 245.5,126.28 246,126.27 246.5,126.26 247,126.24 247.5,126.22 248,126.2 248.5,126.19 249,126.17 249.5,126.15 250,126.12 250.5,126.1 251,126.08 251.5,126.06 252,126.03 252.5,126.01 253,125.99 253.5,125.96 254,125.94 254.5,125.92 255,125.89 255.5,125.87 256,125.85 256.5,125.83 257,125.81 257.5,125.79 258,125.77 258.5,125.76 259,125.74 259.5,125.73 260,125.71 260.5,125.7 261,125.68 261.5,125.61 262,125.42 262.5,125.12 263,124.97 263.5,125.12 264,125.41 264.5,125.59 265,125.65 265.5,125.67 266,125.68 266.5,125.68 267,125.69 267.5,125.7 268,125.71 268.5,125.72 269,125.74 269.5,125.75 270,125.77 270.5,125.78 271,125.8 271.5,125.82 272,125.84 272.5,125.86 273,125.88 273.5,125.9 274,125.92 274.5,125.94 275,125.96 275.5,125.98 276,126 276.5,126.02 277,126.04 277.5,126.05 278,126.07 278.5,126.09 279,126.1 279.5,126.12 280,126.13 280.5,126.14 281,126.16 281.5,126.17 282,126.17 282.5,126.18 283,126.19 283.5,126.19 284,126.19 284.5,126.19 285,126.19 285.5,126.19 286,126.19 286.5,126.18 287,126.17 287.5,126.16 288,126.15 288.5,126.14 289,126.13 289.5,126.11 290,126.1 290.5,126.08 291,126.06 291.5,126.05 292,126.03 292.5,126 293,125.98 293.5,125.96 294,125.94 294.5,125.92 295,125.89 295.5,125.87 296,125.85 296.5,125.82 297,125.8 297.5,125.78 298,125.75 298.5,125.73 299,125.71 299.5,125.69 300,125.67 300.5,125.65 301,125.63 301.5,125.61 302,125.6 302.5,125.58 303,125.57 303.5,125.55 304,125.5 304.5,125.33 305,125.05 305.5,124.84 306,124.93 306.5,125.21 307,125.42 307.5,125.5 308,125.52 308.5,125.53 309,125.53 309.5,125.54 310,125.55 310.5,125.56 311,125.57 311.5,125.58 312,125.6 312.5,125.61 313,125.63 313.5,125.64 314,125.66 314.5,125.68 315,125.7 315.5,125.72 316,125.74 316.5,125.76 317,125.78 317.5,125.8 318,125.82 318.5,125.84 319,125.86 319.5,125.88 320,125.9 320.5,125.91 321,125.93 321.5,125.95 322,125.97 322.5,125.98 323,125.99 323.5,126.01 324,126.02 324.5,126.03 325,126.04 325.5,126.04 326,126.05 326.5,126.05 327,126.06 327.5,126.06 328,126.06 328.5,126.05 329,126.05 329.5,126.04 330,126.04 330.5,126.03 331,126.02 331.5,126.01 332,125.99 332.5,125.98 333,125.96 333.5,125.95 334,125.93 334.5,125.91 335,125.89 335.5,125.87 336,125.85 336.5,125.83 337,125.81 337.5,125.78 338,125.76 338.5,125.74 339,125.71 339.5,125.69 340,125.67 340.5,125.64 341,125.62 341.5,125.6 342,125.58 342.5,125.56 343,125.54 343.5,125.52 344,125.5 344.5,125.49 345,125.47 345.5,125.46 346,125.44 346.5,125.43 347,125.42 347.5,125.41 348,125.38 348.5,125.27 349,125.03 349.5,124.76 350,124.72 350.5,124.97 351,125.23 351.5,125.37 352,125.41 352.5,125.42 353,125.43 353.5,125.44 354,125.45 354.5,125.46 355,125.48 355.5,125.49 356,125.51 356.5,125.52 357,125.54 357.5,125.56 358,125.58 358.5,125.6 359,125.62 359.5,125.64 360,125.66 360.5,125.68 361,125.7 361.5,125.72 362,125.74 362.5,125.76 363,125.78 363.5,125.8 364,125.82 364.5,125.84 365,125.85 365.5,125.87 366,125.88 366.5,125.9 367,125.91 367.5,125.92 368,125.93 368.5,125.94 369,125.94 369.5,125.95 370,125.95 370.5,125.95 371,125.95 371.5,125.95 372,125.95 372.5,125.94 373,125.93 373.5,125.93 374,125.92 374.5,125.91 375,125.89 375.5,125.88 376,125.87 376.5,125.85 377,125.83 377.5,125.81 378,125.79 378.5,125.77 379,125.75 379.5,125.73 380,125.71 380.5,125.69 381,125.67 381.5,125.64 382,125.62 382.5,125.6 383,125.58 383.5,125.55 384,125.53 384.5,125.51 385,125.49 385.5,125.47 386,125.45 386.5,125.43 387,125.42 387.5,125.4 388,125.39 388.5,125.37 389,125.36 389.5,125.35 390,125.34 390.5,125.31 391,125.2 391.5,124.95 392,124.68 392.5,124.65 393,124.89 393.5,125.15 394,125.28 394.5,125.32 395,125.33 395.5,125.34 396,125.35 396.5,125.36 397,125.38 397.5,125.39 398,125.4 398.5,125.42 399,125.44 399.5,125.45 400,125.47 400.5,125.49 401,125.51 401.5,125.53 402,125.55 402.5,125.58 403,125.6 403.5,125.62 404,125.64 404.5,125.66 405,125.68 405.5,125.7 406,125.72 406.5,125.74 407,125.76 407.5,125.78 408,125.8 408.5,125.81 409,125.83 409.5,125.84 410,125.85 410.5,125.87 411,125.87 411.5,125.88 412,125.89 412.5,125.9 413,125.9 413.5,125.9 414,125.9 414.5,125.9 415,125.9 415.5,125.89 416,125.89 416.5,125.88 417,125.87 417.5,125.86 418,125.85 418.5,125.84 419,125.82 419.5,125.81 420,125.79 420.5,125.77 421,125.76 421.5,125.74 422,125.72 422.5,125.7 423,125.68 423.5,125.65 424,125.63 424.5,125.61 425,125.59 425.5,125.57 426,125.55 426.5,125.52 427,125.5 427.5,125.48 428,125.46 428.5,125.44 429,125.43 429.5,125.41 430,125.39 430.5,125.38 431,125.36 431.5,125.35 432,125.34 432.5,125.33 433,125.31 433.5,125.24 434,125.05 434.5,124.76 435,124.6 435.5,124.76 436,125.05 436.5,125.23 437,125.3 437.5,125.31 438,125.32 438.5,125.33 439,125.34 439.5,125.35 440,125.37 440.5,125.38 441,125.4 441.5,125.41 442,125.43 442.5,125.45 443,125.47 443.5,125.49 444,125.51 444.5,125.53 445,125.55 445.5,125.58 446,125.6 446.5,125.62 447,125.64 447.5,125.66 448,125.69 448.5,125.71 449,125.73 449.5,125.75 450,125.77 450.5,125.79 451,125.81 451.5,125.82 452,125.84 452.5,125.85 453,125.87 453.5,125.88 454,125.89 454.5,125.9 455,125.9 455.5,125.91 456,125.92 456.5,125.92 457,125.92 457.5,125.92 458,125.92 458.5,125.91 459,125.91 459.5,125.9 460,125.9 460.5,125.89 461,125.88 461.5,125.86 462,125.85 462.5,125.84 463,125.82 463.5,125.8 464,125.79 464.5,125.77 465,125.75 465.5,125.73 466,125.71 466.5,125.69 467,125.67 467.5,125.65 468,125.62 468.5,125.6 469,125.58 469.5,125.56 470,125.54 470.5,125.52 471,125.5 471.5,125.48 472,125.47 472.5,125.45 473,125.43 473.5,125.42 474,125.41 474.5,125.4 475,125.38 475.5,125.35 476,125.24 476.5,124.99 477,124.72 477.5,124.68 478,124.92 478.5,125.19 479,125.32 479.5,125.35 480,125.36 480.5,125.37 481,125.38 481.5,125.39 482,125.4 482.5,125.41 483,125.42 483.5,125.44 484,125.46 484.5,125.47 485,125.49 485.5,125.51 486,125.53 486.5,125.55 487,125.57 487.5,125.6 488,125.62 488.5,125.64 489,125.66 489.5,125.69 490,125.71 490.5,125.73 491,125.75 491.5,125.78 492,125.8 492.5,125.82 493,125.84 493.5,125.86 494,125.88 494.5,125.9 495,125.91 495.5,125.93 496,125.94 496.5,125.95 497,125.96 497.5,125.97 498,125.98 498.5,125.99 499,125.99 499.5,126 500,126 500.5,126 501,126 501.5,126 502,125.99 502.5,125.99 503,125.98 503.5,125.97 504,125.96 504.5,125.95 505,125.94 505.5,125.92 506,125.91 506.5,125.89 507,125.87 507.5,125.86 508,125.84 508.5,125.82 509,125.8 509.5,125.78 510,125.76 510.5,125.74 511,125.72 511.5,125.7 512,125.68 512.5,125.66 513,125.64 513.5,125.62 514,125.6 514.5,125.58 515,125.57 515.5,125.55 516,125.54 516.5,125.52 517,125.51 517.5,125.5 518,125.49 518.5,125.48 519,125.47 519.5,125.47" fill="none" stroke="#7b1f8d" stroke-width="1.9"/>
<rect x="5.5" y="47.5" width="514" height="157" fill="none" stroke="#2a2a2a" stroke-width="1.1"/>
<defs><linearGradient id="tg" x1="0" y1="0" x2="0" y2="1"><stop offset="0" stop-color="#bdbdbd"/><stop offset="1" stop-color="#ececec"/></linearGradient><linearGradient id="tg2" x1="0" y1="0" x2="1" y2="0"><stop offset="0" stop-color="#fff" stop-opacity="0"/><stop offset="0.55" stop-color="#fff" stop-opacity="0"/><stop offset="1" stop-color="#fff" stop-opacity="0.6"/></linearGradient></defs>
<polygon points="82.3,205 92,205 417,237.5 417,245.5 5.5,245.5" fill="url(#tg)"/>
<text x="5.8" y="218" font-family="'Liberation Serif',serif" font-size="13.2" text-anchor="middle" fill="#111" stroke="#111" stroke-width="0.15">0</text>
<text x="134.3" y="218" font-family="'Liberation Serif',serif" font-size="13.2" text-anchor="middle" fill="#111" stroke="#111" stroke-width="0.15">10</text>
<text x="262.8" y="218" font-family="'Liberation Serif',serif" font-size="13.2" text-anchor="middle" fill="#111" stroke="#111" stroke-width="0.15">20</text>
<text x="391.3" y="218" font-family="'Liberation Serif',serif" font-size="13.2" text-anchor="middle" fill="#111" stroke="#111" stroke-width="0.15">30</text>
<text x="519.8" y="218" font-family="'Liberation Serif',serif" font-size="13.2" text-anchor="middle" fill="#111" stroke="#111" stroke-width="0.15">40</text>
<text x="263" y="232.6" font-family="'Liberation Serif',serif" font-size="14" text-anchor="middle" fill="#111" stroke="#111" stroke-width="0.18">Time (ms)</text>
<line x1="423" y1="238.6" x2="513.5" y2="238.6" stroke="#111" stroke-width="1.1"/>
<polygon points="417,238.6 425,236.2 425,241" fill="#111"/>
<polygon points="519.5,238.6 511.5,236.2 511.5,241" fill="#111"/>
<text x="454.6" y="228.4" font-family="'Liberation Serif',serif" font-size="16" font-style="italic" fill="#111" stroke="#111" stroke-width="0.18">T</text>
<text x="464.8" y="233.2" font-family="'Liberation Serif',serif" font-size="9.5" fill="#111" stroke="#111" stroke-width="0.18">sw</text>
<line x1="5.5" y1="271.5" x2="519.5" y2="271.5" stroke="#c2c2c2" stroke-width="1.1"/>
<line x1="5.5" y1="297.5" x2="519.5" y2="297.5" stroke="#c2c2c2" stroke-width="1.1"/>
<line x1="5.5" y1="324.5" x2="519.5" y2="324.5" stroke="#c2c2c2" stroke-width="1.1"/>
<line x1="5.5" y1="350.5" x2="519.5" y2="350.5" stroke="#c2c2c2" stroke-width="1.1"/>
<line x1="5.5" y1="376.5" x2="519.5" y2="376.5" stroke="#c2c2c2" stroke-width="1.1"/>
<line x1="108.5" y1="245.5" x2="108.5" y2="402.5" stroke="#b4b4b4" stroke-width="1"/>
<line x1="211.5" y1="245.5" x2="211.5" y2="402.5" stroke="#b4b4b4" stroke-width="1"/>
<line x1="313.5" y1="245.5" x2="313.5" y2="402.5" stroke="#b4b4b4" stroke-width="1"/>
<line x1="416.5" y1="245.5" x2="416.5" y2="402.5" stroke="#b4b4b4" stroke-width="1"/>
<path d="M129.2,260.3 C128.4,258.9 125.7,259.2 125.7,263.2 C125.7,267.2 128.4,267.5 129.2,266.1" fill="none" stroke="#444" stroke-width="1.2" stroke-linecap="round"/>
<path d="M233.8,269.1 C233,267.7 230.4,268 230.4,272 C230.4,276 233,276.3 233.8,274.9" fill="none" stroke="#444" stroke-width="1.2" stroke-linecap="round"/>
<path d="M42.3,327.9 C41.5,326.5 38.5,326.8 38.5,330.95 C38.5,335.1 41.5,335.4 42.3,334" fill="none" stroke="#444" stroke-width="1.2" stroke-linecap="round"/>
<path d="M103.1,382.7 C102.3,381.3 99.7,381.6 99.7,385.5 C99.7,389.4 102.3,389.7 103.1,388.3" fill="none" stroke="#444" stroke-width="1.2" stroke-linecap="round"/>
<path d="M115.9,307.1 C114.4,306.9 113.7,307.6 113.8,308.5 C114,310 116.1,310.4 118.2,310.4 C120.5,310.4 122.5,309.8 122.6,308.6 C122.7,307.7 122,307.1 121,307.1" fill="none" stroke="#444" stroke-width="1.2" stroke-linecap="round"/>
<g fill="none" stroke-linejoin="round" stroke-linecap="round" stroke-width="1.55">
<polyline points="5.5,261.7 6.1,262.8 14,259.4 32.5,266.3 45.7,264.7 58.5,263.6 80,270.3 82.8,268.53" stroke="#0d72c2"/>
<polyline points="108.8,262.82 108.9,262.8 116.8,259.4 135.3,266.3 148.5,264.7 161.3,263.6 182.8,270.3 185.8,268.4 186.2,268.31 211.6,262.82 211.7,262.8 219.6,259.4 238.1,266.3 251.3,264.7 264.1,263.6 285.6,270.3 288.4,268.53" stroke="#0d72c2"/>
<polyline points="314.4,262.82 314.5,262.8 322.4,259.4 340.9,266.3 354.1,264.7 366.9,263.6 388.4,270.3 391.1,268.59" stroke="#0d72c2"/>
<polyline points="410.3,265.1 410.3,265.1 415.5,264.4 417.3,262.8 425.2,259.4 443.7,266.3 456.9,264.7 469.7,263.6 491.2,270.3 494.2,268.4 495,268.29 508.5,266.5 508.5,266.5 519.5,264.4" stroke="#0d72c2"/>
<polyline points="14.5,269.4 21.5,273.6 30,273.2 47,265.8 53.5,265 58.5,264.9 75.8,274.2 82.6,271.37" stroke="#edb120"/>
<polyline points="86.9,269.92 103,264.8 103.8,264.91" stroke="#edb120"/>
<polyline points="116.2,268.46 116.3,268.5 124.3,273.3 132.8,272.9 149.8,265.5 156.3,264.7 161.3,264.6 178.6,273.9 186,270.82" stroke="#edb120"/>
<polyline points="190.3,269.43 202.2,265.64" stroke="#edb120"/>
<polyline points="219.2,268.26 227.1,273 235.6,272.6 252.6,265.2 259.1,264.4 264.1,264.3 281.4,273.6 288.2,270.77" stroke="#edb120"/>
<polyline points="292.5,269.32 296,268.21" stroke="#edb120"/>
<polyline points="322.1,268.02 329.9,272.7 338.4,272.3 355.4,264.9 361.9,264.1 366.9,264 384.2,273.3 390.9,270.52" stroke="#edb120"/>
<polyline points="416.7,264.6 416.7,264.6 424.3,267.45 424.7,267.6 432.7,272.4 441.2,272 458.2,264.6 464.7,263.8 469.7,263.7 487,273 494.7,269.8 494.8,269.77" stroke="#edb120"/>
<polyline points="5.5,331.2 13,334 16.5,333.25" stroke="#d9541a"/>
<polyline points="29,330.33 37,328.4 41,331.5 63,334.3 63.3,334.17 78.2,327.72 79.4,327.2 95,326.2 107.6,329.3 116.4,333.5 119.8,333.03" stroke="#d9541a"/>
<polyline points="132.2,328.96 133.3,328.6 137.6,327.5 146.9,331.9 165.5,333.5 166.7,333.1" stroke="#d9541a"/>
<polyline points="181.2,329.42 181.3,329.4 194.8,326.2 210,328.8 220.8,332.5 221.7,332.27 235.2,328.76 238.5,327.9 251,332 267.7,333.5 269.4,332.96" stroke="#d9541a"/>
<polyline points="285.1,327.98 296.9,325.2 314.6,327.3 325,332.04" stroke="#d9541a"/>
<polyline points="337.8,327.81 340.6,326.7 351,331.5 370.8,332.9 372.7,332.26 387.2,327.4 387.5,327.3 399,324.2 418.5,326.2 427.3,330.31" stroke="#d9541a"/>
<polyline points="439.6,327.01 442.5,326.2 456,330.4 472.7,332 475.5,331.16 490.1,326.79 490.4,326.7 502.9,323.1 519.5,323.9" stroke="#d9541a"/>
<polyline points="5.5,386 13.2,390 34.4,383.3 34.7,383.33" stroke="#0d72c2"/>
<polyline points="60.4,385.94 61,386 79.5,380 88.1,384.4 108,385.8 116.8,390.2 137.8,382.8 137.9,382.81" stroke="#0d72c2"/>
<polyline points="163.2,386.15 163.5,386.2 182.3,379.4 191.7,384.2 210,386.3 219.8,389.8 240.6,382 240.8,382.04" stroke="#0d72c2"/>
<polyline points="266.8,385.47 285.4,379 295.8,383.5 314.2,386 321.9,389.8 342.7,381.9 342.9,381.92" stroke="#0d72c2"/>
<polyline points="369.9,384.57 389.2,378.3 399,383.5 414.4,384.6 424.8,389.2 445.6,381.5 445.8,381.52" stroke="#0d72c2"/>
<polyline points="472.8,383.47 473.7,383.5 492.5,377.3 502.8,383 515.6,384.1 519.5,385.6" stroke="#0d72c2"/>
<polyline points="5.5,263.2 11.6,266.6 18.2,334.2 19.6,328.9 21,333.2 22,330.9 22.9,332.6 24.5,331.2 26.6,330.7 28.2,331.2 36.6,384.8 38.2,382 39.2,384.1 40.2,382.6 41.1,383.8 42.2,383.1 43.8,383.8 58.2,386 65.8,330.2 66.9,333.5 68.1,331.1 69.1,333.5 70.1,331.6 71.6,332.2 76.4,331 84.6,265.2 85.6,267.66 86.4,265.15 87.4,266.81 88.2,265 89.2,265.96 90.2,264.72 91.3,265.36 92.4,264.41 93.6,264.74 94.9,264.06 96.3,264.16 97.8,263.65 105.3,262.3 113.3,267.2 121.5,334.5 122.9,329.2 124.3,333.5 125.3,331.2 126.2,332.9 127.8,331.5 129.9,331 131.4,331 139.8,385 141.4,382.2 142.4,384.3 143.4,382.8 144.3,384 145.4,383.3 147,384 161,386.2 169.2,330.1 170.3,333.4 171.5,331 172.5,333.4 173.5,331.5 175,332.1 179.4,329.8 188,265.3 189,267.77 189.8,265.27 190.8,266.94 191.6,265.13 192.6,266.1 193.6,264.87 194.7,265.53 195.8,264.58 197,264.93 198.3,264.26 199.7,264.38 201.2,263.88 207.2,262.8 216.3,266.8 223.4,334.6 224.8,329.3 226.2,333.6 227.2,331.3 228.1,333 229.7,331.6 231.8,331.1 234.4,330 242.7,384.5 244.3,381.7 245.3,383.8 246.3,382.3 247.2,383.5 248.3,382.8 249.9,383.5 264.6,385.8 271.9,331.6 273,334.9 274.2,332.5 275.2,334.9 276.2,333 277.7,333.6 283.3,328.4 290.2,266.4 291.2,268.81 292,266.26 293,267.88 293.8,266.02 294.8,266.94 295.8,265.65 296.9,266.24 298,265.24 299.2,265.51 300.5,264.77 301.9,264.81 303.4,264.23 311,262.5 319.2,266 326.7,334.4 328.1,329.1 329.5,333.4 330.5,331.1 331.4,332.8 333,331.4 335.1,330.9 337,328.6 344.8,384.3 346.4,381.5 347.4,383.6 348.4,382.1 349.3,383.3 350.4,382.6 352,383.3 367.7,385.3 375.2,329.8 376.3,333.1 377.5,330.7 378.5,333.1 379.5,331.2 381,331.8 385.4,328.4 392.9,266 393.9,268.4 394.7,265.83 395.7,267.43 396.5,265.57 397.5,266.46 398.5,265.16 399.6,265.73 400.7,264.71 401.9,264.97 403.2,264.2 404.6,264.22 406.1,263.61 414,261.7 421.4,265 429,333.8 430.4,328.5 431.8,332.8 432.8,330.5 433.7,332.2 435.3,330.8 437.4,330.3 438.8,328 447.7,384.3 449.3,381.5 450.3,383.6 451.3,382.1 452.2,383.3 453.3,382.6 454.9,383.3 470.6,384.6 478,328.8 479.1,332.1 480.3,329.7 481.3,332.1 482.3,330.2 483.8,330.8 488.3,326.6 496.8,266.8 497.8,269.16 498.6,266.57 499.6,268.13 500.4,266.24 501.4,267.11 502.4,265.77 503.5,266.31 504.6,265.24 505.8,265.46 507.1,264.65 508.5,264.62 510,263.96 519.5,261.4" stroke="#7e2f8e" stroke-width="1.6"/>
</g>
<line x1="5.5" y1="271.67" x2="10.5" y2="271.67" stroke="#222" stroke-width="1.1"/>
<line x1="514.5" y1="271.67" x2="519.5" y2="271.67" stroke="#222" stroke-width="1.1"/>
<line x1="5.5" y1="297.83" x2="10.5" y2="297.83" stroke="#222" stroke-width="1.1"/>
<line x1="514.5" y1="297.83" x2="519.5" y2="297.83" stroke="#222" stroke-width="1.1"/>
<line x1="5.5" y1="324" x2="10.5" y2="324" stroke="#222" stroke-width="1.1"/>
<line x1="514.5" y1="324" x2="519.5" y2="324" stroke="#222" stroke-width="1.1"/>
<line x1="5.5" y1="350.17" x2="10.5" y2="350.17" stroke="#222" stroke-width="1.1"/>
<line x1="514.5" y1="350.17" x2="519.5" y2="350.17" stroke="#222" stroke-width="1.1"/>
<line x1="5.5" y1="376.33" x2="10.5" y2="376.33" stroke="#222" stroke-width="1.1"/>
<line x1="514.5" y1="376.33" x2="519.5" y2="376.33" stroke="#222" stroke-width="1.1"/>
<line x1="108.3" y1="245.5" x2="108.3" y2="250.5" stroke="#222" stroke-width="1.1"/>
<line x1="108.3" y1="397.5" x2="108.3" y2="402.5" stroke="#222" stroke-width="1.1"/>
<line x1="211.1" y1="245.5" x2="211.1" y2="250.5" stroke="#222" stroke-width="1.1"/>
<line x1="211.1" y1="397.5" x2="211.1" y2="402.5" stroke="#222" stroke-width="1.1"/>
<line x1="313.9" y1="245.5" x2="313.9" y2="250.5" stroke="#222" stroke-width="1.1"/>
<line x1="313.9" y1="397.5" x2="313.9" y2="402.5" stroke="#222" stroke-width="1.1"/>
<line x1="416.7" y1="245.5" x2="416.7" y2="250.5" stroke="#222" stroke-width="1.1"/>
<line x1="416.7" y1="397.5" x2="416.7" y2="402.5" stroke="#222" stroke-width="1.1"/>
<rect x="5.5" y="245.5" width="514" height="157" fill="none" stroke="#2a2a2a" stroke-width="1.1"/>
<text x="302.2" y="22.3" font-family="'Liberation Serif',serif" font-size="15.5" font-style="italic" fill="#111" stroke="#111" stroke-width="0.2">i</text>
<text x="307.5" y="26.8" font-family="'Liberation Serif',serif" font-size="9" fill="#111" stroke="#111" stroke-width="0.15">m</text>
<text x="318.6" y="22.3" font-family="'Liberation Serif',serif" font-size="12.9" fill="#111" stroke="#111" stroke-width="0.18">instantaneous</text>
<path d="M335.6,27.6 C335.4,33 334.6,41 333,43.6 C331.6,45.5 330.6,39.5 329.6,40.2 C328.4,41 327.8,44 327.7,48 L327.7,61" fill="none" stroke="#333" stroke-width="1" stroke-linecap="round" stroke-linejoin="round"/>
<text x="223.9" y="91.3" font-family="'Liberation Serif',serif" font-size="15.5" font-style="italic" fill="#111" stroke="#111" stroke-width="0.2">i</text>
<text x="228.7" y="96" font-family="'Liberation Serif',serif" font-size="9.5" fill="#111" stroke="#111" stroke-width="0.15">m</text>
<text x="240.5" y="91.3" font-family="'Liberation Serif',serif" font-size="12.8" fill="#111" stroke="#111" stroke-width="0.18">local average</text>
<path d="M226.7,98.9 L219.6,109.4 L218.2,106.4 L210.4,118.6" fill="none" stroke="#f2e8f4" stroke-width="3" stroke-linecap="round" stroke-linejoin="round"/>
<path d="M226.7,98.9 L219.6,109.4 L218.2,106.4 L210.4,118.6" fill="none" stroke="#3a3a3a" stroke-width="1.1" stroke-linecap="round" stroke-linejoin="round"/>
<path d="M210.4,123.1 C209.6,121.7 206.6,122 206.6,126 C206.6,130 209.6,130.3 210.4,128.9" fill="none" stroke="#444" stroke-width="1.2" stroke-linecap="round"/>
<text x="530.2" y="130.0" font-family="'Liberation Serif',serif" font-size="13.4" font-weight="bold" fill="#111" textLength="16.4" lengthAdjust="spacing">(a)</text>
<text x="529.9" y="328.0" font-family="'Liberation Serif',serif" font-size="13.4" font-weight="bold" fill="#111" textLength="16.9" lengthAdjust="spacing">(b)</text>
<text x="402.2" y="40.6" font-family="'Liberation Sans',sans-serif" font-size="15" font-weight="bold" fill="#111" stroke="#111" stroke-width="0.55" textLength="66.5" lengthAdjust="spacingAndGlyphs">TELEDYNE</text>
<text x="472.5" y="40.6" font-family="'Liberation Sans',sans-serif" font-size="15" fill="#111" stroke="#111" stroke-width="0.6" textLength="44.3" lengthAdjust="spacingAndGlyphs">LECROY</text>
<text x="160.1" y="258.6" font-family="'Liberation Serif',serif" font-size="17" fill="#111">+</text>
<text x="170" y="258" font-family="'Liberation Serif',serif" font-size="15.5" font-style="italic" fill="#111" stroke="#111" stroke-width="0.2">i</text>
<text x="174.6" y="263.4" font-family="'Liberation Serif',serif" font-size="9.5" fill="#111" stroke="#111" stroke-width="0.15">a</text>
<path d="M129.8,258.6 L145,254.9 C147.4,254.4 147.8,256.1 146.5,257.1 C145.3,258 144.2,259.3 145.8,259.1 L159.6,257.1" fill="none" stroke="#333" stroke-width="1" stroke-linecap="round" stroke-linejoin="round"/>
<text x="141.6" y="312.4" font-family="'Liberation Serif',serif" font-size="15.5" font-style="italic" fill="#111" stroke="#111" stroke-width="0.2">i</text>
<text x="146.8" y="317.9" font-family="'Liberation Serif',serif" font-size="9.5" fill="#111" stroke="#111" stroke-width="0.15">m</text>
<path d="M124.8,308.2 L131.4,307.6 C133,307.4 133.1,308.4 132.5,309 C132,309.6 133,309.8 134,309.7 L139.6,309.3" fill="none" stroke="#333" stroke-width="1" stroke-linecap="round" stroke-linejoin="round"/>
<text x="238" y="311.6" font-family="'Liberation Serif',serif" font-size="17" fill="#111">−</text>
<text x="247.7" y="311.3" font-family="'Liberation Serif',serif" font-size="15.5" font-style="italic" fill="#111" stroke="#111" stroke-width="0.2">i</text>
<text x="252.8" y="317" font-family="'Liberation Serif',serif" font-size="9.5" fill="#111" stroke="#111" stroke-width="0.15">c</text>
<path d="M232.6,278.7 L240.1,291.2 C240.6,292 240.4,288.5 241.1,288.1 L248.5,297.4" fill="none" stroke="#333" stroke-width="1" stroke-linecap="round" stroke-linejoin="round"/>
<text x="47.8" y="313.6" font-family="'Liberation Serif',serif" font-size="17" fill="#111">+</text>
<text x="57.5" y="312.7" font-family="'Liberation Serif',serif" font-size="15.5" font-style="italic" fill="#111" stroke="#111" stroke-width="0.2">i</text>
<text x="62.4" y="317.6" font-family="'Liberation Serif',serif" font-size="9.5" fill="#111" stroke="#111" stroke-width="0.15">b</text>
<path d="M55.7,315.5 L49.8,320.2 C49,320.8 48.9,318.5 48.2,318.7 L42.3,325.1" fill="none" stroke="#333" stroke-width="1" stroke-linecap="round" stroke-linejoin="round"/>
<text x="66.2" y="366.2" font-family="'Liberation Serif',serif" font-size="17" fill="#111">−</text>
<text x="75.5" y="365.4" font-family="'Liberation Serif',serif" font-size="15.5" font-style="italic" fill="#111" stroke="#111" stroke-width="0.2">i</text>
<text x="80.8" y="371" font-family="'Liberation Serif',serif" font-size="9.5" fill="#111" stroke="#111" stroke-width="0.15">a</text>
<path d="M86.7,369.1 L92.1,374.3 C92.7,374.8 92.9,372.4 93.7,372.4 L99.8,378.4" fill="none" stroke="#333" stroke-width="1" stroke-linecap="round" stroke-linejoin="round"/>
</svg>
</body></html>
